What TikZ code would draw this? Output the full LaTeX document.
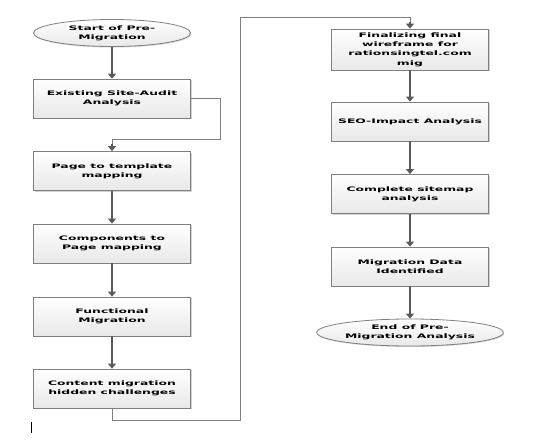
\documentclass[tikz,border=0pt]{standalone}
\usepackage{fontspec}
\newfontfamily\chartfont{DejaVu Sans Bold}[FakeStretch=2.0]
\usetikzlibrary{shapes.geometric,arrows.meta,shadows}
\definecolor{edgegray}{HTML}{7F7F7F}
\definecolor{arrowgray}{HTML}{595959}
\begin{document}
\begin{tikzpicture}[x=1pt,y=-1pt,
  stepbox/.style={rectangle,draw=edgegray,line width=0.8pt,top color=white,bottom color=black!9,
    drop shadow={shadow xshift=1pt,shadow yshift=-1pt,fill=black!35},
    minimum width=157pt,minimum height=39pt,align=center,inner sep=1pt,
    font=\chartfont\fontsize{6.2}{9.3}\selectfont},
  termbox/.style={stepbox,ellipse,minimum height=27pt},
  flow/.style={draw=arrowgray,line width=1.5pt,-{Triangle[width=8pt,length=5pt]}},
  link/.style={draw=edgegray,line width=0.9pt}]
\useasboundingbox (0,0) rectangle (557,447);

\node[termbox] (start) at (112,33) {Start of Pre-\\Migration};
\node[stepbox] (audit) at (112,98.5) {Existing Site-Audit\\Analysis};
\node[stepbox] (page) at (112,171) {Page to template\\mapping};
\node[stepbox] (comp) at (112,243.5) {Components to\\Page mapping};
\node[stepbox] (func) at (112,316.5) {Functional\\Migration};
\node[stepbox] (content) at (112,388.5) {Content migration\\hidden challenges};

\node[stepbox,minimum height=41pt] (final) at (410,49.5) {Finalizing final\\wireframe for\\rationsingtel.com\\mig};
\node[stepbox] (seo) at (410,121.5) {SEO-Impact Analysis};
\node[stepbox] (sitemap) at (410,194) {Complete sitemap\\analysis};
\node[stepbox] (data) at (410,266.5) {Migration Data\\Identified};
\node[termbox] (end) at (410,332.5) {End of Pre-\\Migration Analysis};

\coordinate (turnA) at (220,139);
\coordinate (turnB) at (240,420);
\coordinate (turnC) at (240,17);
\coordinate (pageIn) at ([yshift=7pt]page.north);
\coordinate (finalIn) at ([yshift=7pt]final.north);

\draw[flow] (start) -- (audit);
\draw[link] (audit.east) -| (turnA) -| (pageIn);
\draw[flow] (pageIn) -- (page.north);
\draw[flow] (page) -- (comp);
\draw[flow] (comp) -- (func);
\draw[flow] (func) -- (content);
\draw[link] (content.south) |- (turnB) -- (turnC) -| (finalIn);
\draw[flow] (finalIn) -- (final.north);
\draw[flow] (final) -- (seo);
\draw[flow] (seo) -- (sitemap);
\draw[flow] (sitemap) -- (data);
\draw[flow] (data) -- (end);

\draw[line width=0.8pt] (31,422) -- (31,433);
\end{tikzpicture}
\end{document}
